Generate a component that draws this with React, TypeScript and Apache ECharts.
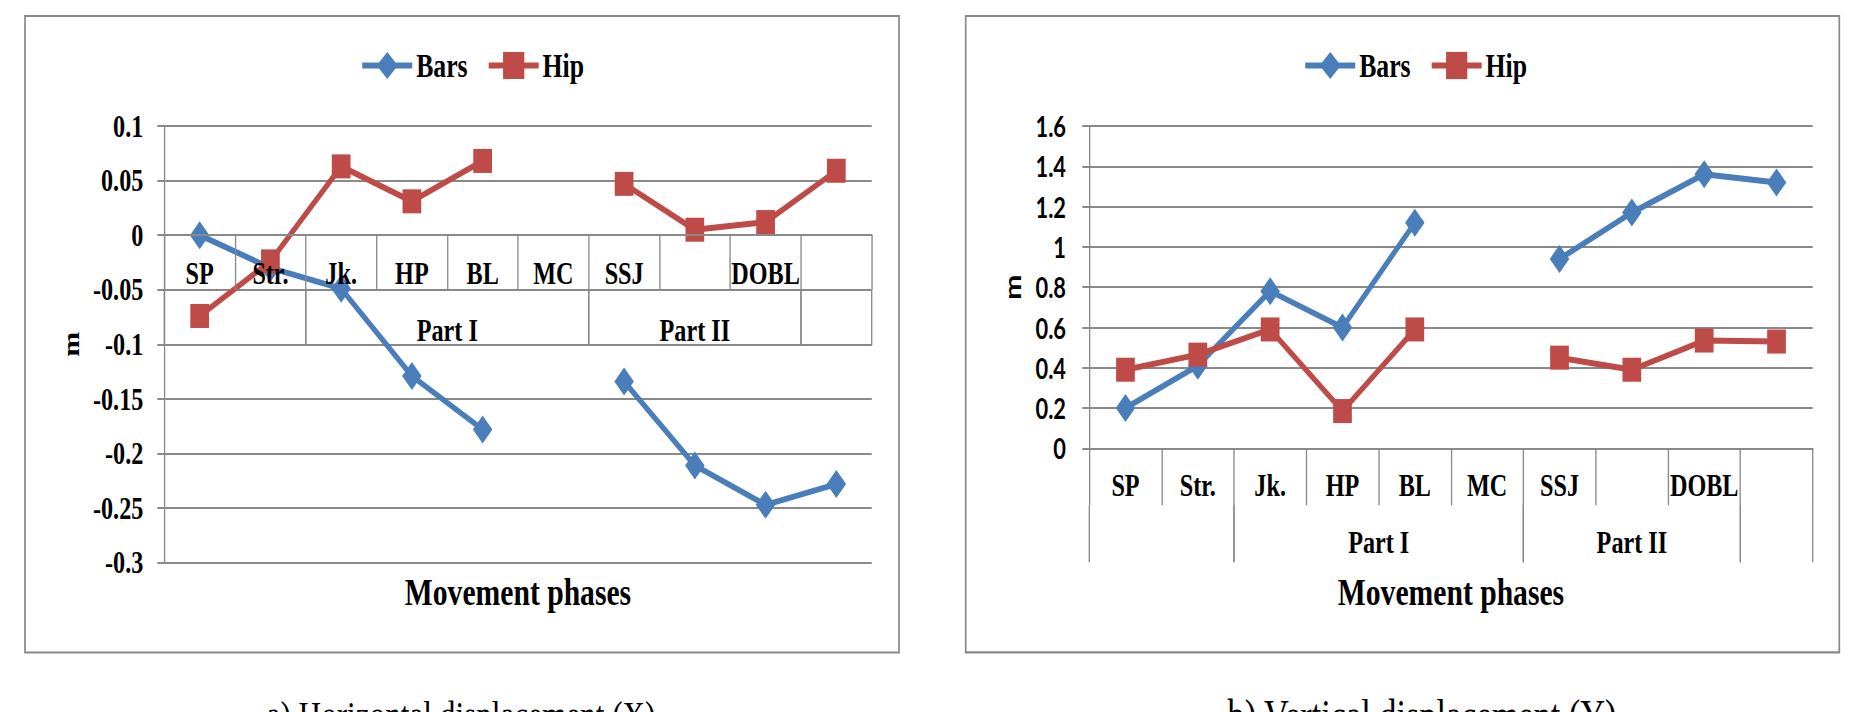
import React, { useEffect, useRef } from 'react';
import * as echarts from 'echarts';

// Phase names on the first level of the category axis
const phases = ['SP', 'Str.', 'Jk.', 'HP', 'BL', 'MC', 'SSJ', '', 'DOBL', ''];
// Second-level groups (index ranges into phases)
const phaseGroups = [
  { label: '', from: 0, to: 1 },
  { label: 'Part I', from: 2, to: 5 },
  { label: 'Part II', from: 6, to: 8 },
  { label: '', from: 9, to: 9 },
];

// a) Horizontal displacement (X), m
const barsX = [0, -0.03, -0.049, -0.129, -0.178, null, -0.134, -0.211, -0.247, -0.228];
const hipX = [-0.074, -0.024, 0.063, 0.031, 0.068, null, 0.047, 0.005, 0.012, 0.059];
const xScale = { min: -0.3, max: 0.1, interval: 0.05 };

// b) Vertical displacement (Y), m
const barsY = [0.2, 0.41, 0.78, 0.6, 1.12, null, 0.94, 1.17, 1.36, 1.32];
const hipY = [0.39, 0.465, 0.59, 0.185, 0.59, null, 0.45, 0.39, 0.535, 0.53];
const yScale = { min: 0, max: 1.6, interval: 0.2 };

const captions = ['a) Horizontal displacement (X)', 'b) Vertical displacement (Y)'];

// The drawing is laid out wide and squeezed horizontally to give narrow lettering.
const SX = 0.78;
const PAGE_W = 1853;
const PAGE_H = 712;
const W = PAGE_W / SX;
const px = (x: number) => x / SX;

const SERIF = "'Liberation Serif', 'Times New Roman', serif";
const SANS = "Lato, 'Noto Sans', sans-serif";
const GRAY = '#898989';
const BLUE = '#4A7EBB';
const RED = '#BE4B48';
const LINE_W = 6;

type PanelCfg = {
  idx: number;
  frame: [number, number, number, number];
  plot: [number, number, number, number];
  scale: { min: number; max: number; interval: number };
  bars: (number | null)[];
  hip: (number | null)[];
  axisY: number; // pixel row of value 0
  row: number;
  labelDy1: number;
  labelDy2: number;
  tickFont: string;
  tickSize: number;
  labelGap: number;
  nameCenterX: number;
  nameFont: string;
  legendLeft: number;
  caption: string;
  captionX: number;
  captionSize: number;
};

const panels: PanelCfg[] = [
  {
    idx: 0,
    frame: [25, 16, 899, 652.5],
    plot: [164.3, 126, 871.7, 562.7],
    scale: xScale,
    bars: barsX,
    hip: hipX,
    axisY: 235,
    row: 55,
    labelDy1: 38,
    labelDy2: 95,
    tickFont: SERIF,
    tickSize: 31,
    labelGap: 21,
    nameCenterX: 71,
    nameFont: SERIF,
    legendLeft: 356,
    caption: captions[0],
    captionX: 461,
    captionSize: 40,
  },
  {
    idx: 1,
    frame: [965.7, 16, 1839.3, 652.3],
    plot: [1089.3, 126, 1812.7, 448.3],
    scale: yScale,
    bars: barsY,
    hip: hipY,
    axisY: 448.3,
    row: 57,
    labelDy1: 37,
    labelDy2: 94,
    tickFont: SANS,
    tickSize: 28,
    labelGap: 23.3,
    nameCenterX: 1011.5,
    nameFont: SANS,
    legendLeft: 1299,
    caption: captions[1],
    captionX: 1422,
    captionSize: 44,
  },
];

const NAME_CENTER_Y = 592;
const NAME_SIZE = 38;

function buildOption() {
  const grid: any[] = [];
  const xAxis: any[] = [];
  const yAxis: any[] = [];
  const series: any[] = [];
  const legend: any[] = [];
  const graphic: any[] = [];

  panels.forEach((p) => {
    const [l, t, r, b] = p.plot;
    grid.push({
      left: px(l),
      top: t,
      width: px(r - l),
      height: b - t,
      containLabel: false,
      outerBoundsMode: 'none',
    });

    xAxis.push({
      type: 'category',
      gridIndex: p.idx,
      data: phases,
      boundaryGap: true,
      position: 'bottom',
      // the category axis sits on the zero line of the value axis
      offset: -(b - p.axisY),
      z: 5,
      axisLine: { show: true, onZero: false, lineStyle: { color: GRAY, width: 2 } },
      axisTick: { show: true, interval: 0, length: p.row, lineStyle: { color: GRAY, width: 1.7 } },
      axisLabel: {
        interval: 0,
        margin: p.labelDy1,
        verticalAlign: 'middle',
        color: '#000',
        fontFamily: SERIF,
        fontWeight: 'bold',
        fontSize: 31,
      },
      splitLine: { show: false },
      name: 'Movement phases',
      nameLocation: 'middle',
      nameGap: NAME_CENTER_Y - p.axisY - NAME_SIZE / 2,
      nameMoveOverlap: false,
      nameTextStyle: { fontFamily: SERIF, fontWeight: 'bold', fontSize: NAME_SIZE, color: '#000' },
    });

    yAxis.push({
      type: 'value',
      gridIndex: p.idx,
      min: p.scale.min,
      max: p.scale.max,
      interval: p.scale.interval,
      axisLine: { show: true, onZero: false, lineStyle: { color: GRAY, width: 1.7 } },
      axisTick: { show: true, length: px(7), lineStyle: { color: GRAY, width: 2 } },
      axisLabel: {
        margin: px(p.labelGap),
        color: '#000',
        fontFamily: p.tickFont,
        fontWeight: 'bold',
        fontSize: p.tickSize,
      },
      splitLine: { show: true, lineStyle: { color: GRAY, width: 2 } },
      name: 'm',
      nameLocation: 'middle',
      nameGap: (l - p.nameCenterX) / SX - 15,
      nameMoveOverlap: false,
      nameTextStyle: { fontFamily: p.nameFont, fontWeight: 'bold', fontSize: 30, color: '#000' },
    });

    series.push(
      {
        type: 'line',
        name: 'Bars',
        xAxisIndex: p.idx,
        yAxisIndex: p.idx,
        data: p.bars,
        symbol: 'diamond',
        symbolSize: [25, 28],
        showAllSymbol: true,
        lineStyle: { color: BLUE, width: LINE_W },
        itemStyle: { color: BLUE },
        z: 3,
      },
      {
        type: 'line',
        name: 'Hip',
        xAxisIndex: p.idx,
        yAxisIndex: p.idx,
        data: p.hip,
        symbol: 'rect',
        symbolSize: 24,
        showAllSymbol: true,
        lineStyle: { color: RED, width: LINE_W },
        itemStyle: { color: RED },
        z: 4,
      },
      {
        // second level of the category axis: group dividers and group names
        type: 'custom',
        name: 'Phase groups ' + p.idx,
        xAxisIndex: p.idx,
        yAxisIndex: p.idx,
        z: 6,
        silent: true,
        clip: false,
        encode: { x: [0, 1], y: 2 },
        data: phaseGroups.map((g) => [g.from, g.to, 0]),
        renderItem: (params: any, api: any) => {
          const g = phaseGroups[params.dataIndex];
          const band = api.size([1, 0])[0];
          const a = api.coord([api.value(0), 0]);
          const c = api.coord([api.value(1), 0]);
          const x0 = a[0] - band / 2;
          const x1 = c[0] + band / 2;
          const y = a[1];
          const ls = { stroke: GRAY, lineWidth: 1.7 };
          return {
            type: 'group',
            children: [
              { type: 'line', shape: { x1: x0, y1: y + p.row, x2: x0, y2: y + 2 * p.row }, style: ls },
              { type: 'line', shape: { x1: x1, y1: y + p.row, x2: x1, y2: y + 2 * p.row }, style: ls },
              {
                type: 'text',
                style: {
                  text: g.label,
                  x: (x0 + x1) / 2,
                  y: y + p.labelDy2,
                  align: 'center',
                  verticalAlign: 'middle',
                  fontFamily: SERIF,
                  fontWeight: 'bold',
                  fontSize: 31,
                  fill: '#000',
                },
              },
            ],
          };
        },
      }
    );

    legend.push({
      left: px(p.legendLeft),
      top: 44,
      orient: 'horizontal',
      data: ['Bars', 'Hip'],
      itemWidth: px(50),
      itemHeight: 34,
      itemGap: 24,
      selectedMode: false,
      lineStyle: { width: LINE_W },
      textStyle: { fontFamily: SERIF, fontWeight: 'bold', fontSize: 33, color: '#000' },
    });

    const [fx0, fy0, fx1, fy1] = p.frame;
    graphic.push(
      {
        type: 'rect',
        silent: true,
        z: -1,
        shape: { x: px(fx0), y: fy0, width: px(fx1 - fx0), height: fy1 - fy0 },
        style: { fill: 'none', stroke: GRAY, lineWidth: 2.2 },
      },
      {
        type: 'text',
        silent: true,
        x: px(p.captionX),
        y: 716,
        style: {
          text: p.caption,
          fontFamily: SERIF,
          fontSize: p.captionSize,
          fill: '#000',
          align: 'center',
          verticalAlign: 'middle',
        },
      }
    );
  });

  return {
    animation: false,
    backgroundColor: '#fff',
    grid,
    xAxis,
    yAxis,
    legend,
    series,
    graphic,
  };
}

export default function App() {
  const ref = useRef<HTMLDivElement>(null);
  useEffect(() => {
    const chart = echarts.init(ref.current!, undefined, { renderer: 'svg', width: W, height: PAGE_H });
    chart.setOption(buildOption() as any);
    return () => chart.dispose();
  }, []);
  return (
    <div
      style={{
        position: 'fixed',
        left: 0,
        top: 0,
        width: PAGE_W,
        height: PAGE_H,
        overflow: 'hidden',
        background: '#fff',
      }}
    >
      <div
        ref={ref}
        style={{ width: W, height: PAGE_H, transform: `scaleX(${SX})`, transformOrigin: '0 0' }}
      />
    </div>
  );
}
